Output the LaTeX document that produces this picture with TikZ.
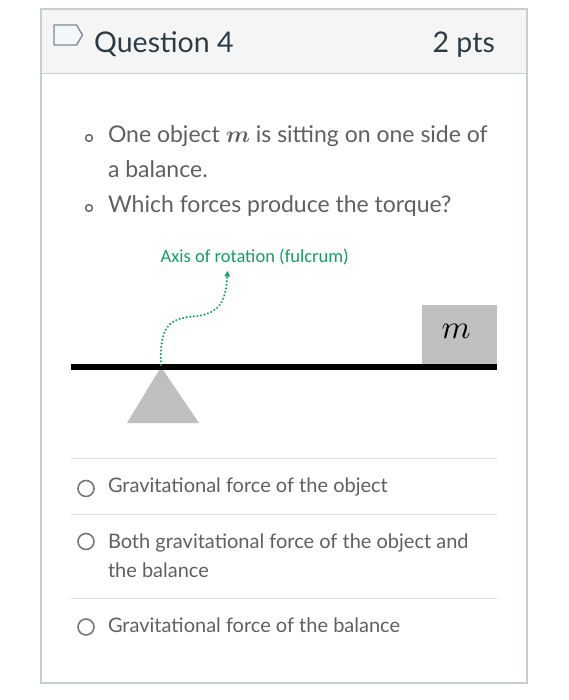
\documentclass[tikz,border=0pt]{standalone}
\usepackage{fontspec}
\setmainfont{Lato}
\newfontfamily\carl{Carlito}
\usetikzlibrary{arrows.meta}
\definecolor{hdrbg}{HTML}{F5F5F5}
\definecolor{cardline}{HTML}{C7CDD1}
\definecolor{hdrtext}{HTML}{2D3B45}
\definecolor{bodytext}{HTML}{606060}
\definecolor{sepline}{HTML}{DDDDDD}
\definecolor{iconline}{HTML}{7D8B96}
\definecolor{iconfill}{HTML}{F3F7FA}
\definecolor{axisgreen}{RGB}{20,160,95}
\definecolor{shapegray}{HTML}{BFBFBF}
\definecolor{radio}{HTML}{777777}
\newcommand{\myobjm}{\mbox{\normalsize\scalebox{2.35}{\boldmath$m$}}}
\tikzset{
  txt/.style={anchor=base west, inner sep=0pt, outer sep=0pt},
  hdrtxt/.style={inner sep=0pt, text=hdrtext, font=\fontsize{28.5}{34}\selectfont},
  bodytxt/.style={txt, text=bodytext, font=\fontsize{23}{27}\selectfont},
  opttxt/.style={txt, text=bodytext, font=\fontsize{20}{24}\selectfont},
  bulletdot/.style={draw=bodytext, line width=1.4pt},
  radiobtn/.style={draw=radio, line width=1.6pt, fill=white},
  sep/.style={draw=sepline, line width=1pt},
}
\begin{document}
\begin{tikzpicture}[x=1pt,y=-1pt]
\useasboundingbox (0,0) rectangle (568,700);
\fill[white] (0,0) rectangle (568,700);
% card
\fill[hdrbg] (41,9) rectangle (527,74);
\draw[cardline, line width=1.5pt] (41,9) rectangle (527,683);
\draw[cardline, line width=1pt] (41,74) -- (527,74);
% header icon
\draw[iconline, fill=iconfill, line width=1.3pt, line join=round]
  (54,25) -- (76.5,25) -- (82.5,35) -- (76.5,45) -- (54,45) -- cycle;
\node[hdrtxt, anchor=base west] (title) at (94,53) {Question 4};
\node[hdrtxt, anchor=base east] (pts) at (495,53) {2 pts};
% bullets
\draw[bulletdot] (89,138) circle (3.4);
\node[bodytxt] (b1) at (108,143) {One object \myobjm\ is sitting on one side of};
\node[bodytxt] (b1b) at (108,178) {a balance.};
\draw[bulletdot] (89,208) circle (3.4);
\node[bodytxt] (b2) at (108,213) {Which forces produce the torque?};
% diagram
\node[anchor=base west, inner sep=0pt, text=axisgreen, font=\carl\fontsize{18.5}{22}\selectfont] (axis) at (160.5,262.5) {Axis of rotation (fulcrum)};
\fill[shapegray] (422,305) rectangle (497,365) ;
\node[inner sep=0pt, scale=3.3, font=\normalsize] (m) at (456,331) {$m$};
\fill[shapegray] (161,367) -- (127,423) -- (199,423) -- cycle;
\coordinate (pivot) at (161,365);
\coordinate (tip) at (227.5,271);
\draw[black, line width=5.5pt] (71,367) -- (497,367);
\draw[axisgreen, line width=2.3pt, dash pattern=on 0.01pt off 3.6pt, line cap=round,
      -{Triangle[length=5.5pt,width=5.5pt]}]
  (pivot) .. controls (159,322) and (172,318) .. (198,316)
          .. controls (222,312) and (226,298) .. (tip);
% options
\draw[sep] (71,458.5) -- (497,458.5);
\draw[radiobtn] (86,488.5) circle (8);
\node[opttxt] (o1) at (108,492) {Gravitational force of the object};
\draw[sep] (71,514) -- (497,514);
\draw[radiobtn] (86,541.5) circle (8);
\node[opttxt] (o2) at (108,548) {Both gravitational force of the object and};
\node[opttxt] (o2b) at (108,577) {the balance};
\draw[sep] (71,598.5) -- (497,598.5);
\draw[radiobtn] (86,627) circle (8);
\node[opttxt] (o3) at (108,632) {Gravitational force of the balance};
\end{tikzpicture}
\end{document}
